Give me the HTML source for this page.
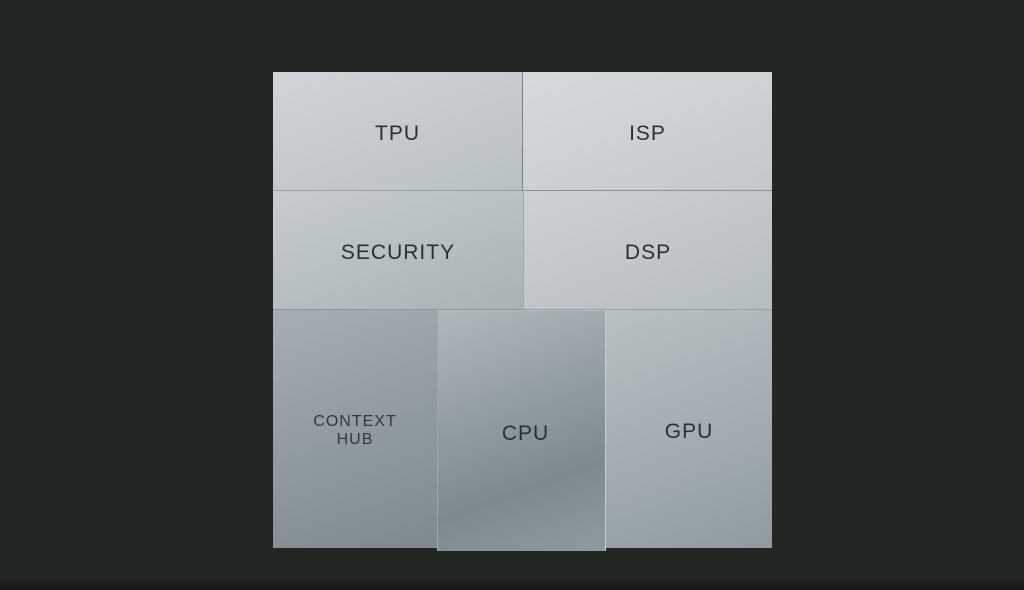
<!DOCTYPE html>
<html><head><style>
html,body{margin:0;padding:0;}
body{width:1024px;height:590px;background:#232723;position:relative;overflow:hidden;font-family:"Liberation Sans",sans-serif;}
.b{position:absolute;box-sizing:border-box;display:flex;align-items:center;justify-content:center;color:#2b3033;font-size:21px;letter-spacing:1px;text-align:center;padding-top:5px;}
.shade{position:absolute;left:0;top:578px;width:1024px;height:12px;background:linear-gradient(#232723,#141614);}
</style></head><body>
<div class="b" style="left:273px;top:72px;width:250px;height:119px;background:linear-gradient(160deg,#cfd4d7,#b9c0c4);border-right:1px solid #7d8487;border-bottom:1px solid #9aa1a4">TPU</div>
<div class="b" style="left:523px;top:72px;width:249px;height:119px;background:linear-gradient(160deg,#d6dadc,#c2c8cb);border-bottom:1px solid #8a9194">ISP</div>
<div class="b" style="left:273px;top:191px;width:250px;height:119px;background:linear-gradient(160deg,#c6ccd0,#aab2b6);border-bottom:1px solid #8f979a">SECURITY</div>
<div class="b" style="left:523px;top:191px;width:249px;height:119px;background:linear-gradient(160deg,#ccd1d4,#b5bcc0);border-left:1px solid #a0a7aa;border-bottom:1px solid #9aa1a4">DSP</div>
<div class="b" style="left:273px;top:310px;width:164px;height:238px;background:linear-gradient(160deg,#a5aeb2,#7d898d);font-size:16px;line-height:18px;color:#33393b;padding-top:3px">CONTEXT<br>HUB</div>
<div class="b" style="left:437px;top:310px;width:169px;height:241px;background:linear-gradient(160deg,#b0b8bc,#7c898e 70%,#8f9a9e);border-left:1px solid #9ca5a8;border-right:1px solid #c6cdd0;border-top:1px solid #b8bfc2;padding-left:8px">CPU</div>
<div class="b" style="left:606px;top:310px;width:166px;height:238px;background:linear-gradient(160deg,#b9c0c4,#8f9ba0)">GPU</div>
<div class="shade"></div>
</body></html>
